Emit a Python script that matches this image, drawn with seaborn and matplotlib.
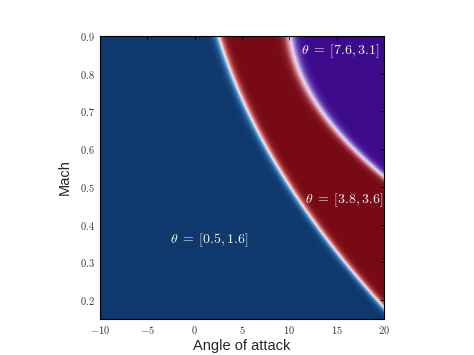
import numpy as np
import seaborn as sns
import matplotlib.pyplot as plt
from matplotlib.colors import LinearSegmentedColormap
from matplotlib.ticker import FuncFormatter

# boundary between the blue and red regions (Mach -> angle of attack)
mach_b1 = [0.20, 0.307, 0.44, 0.65, 0.75, 0.90]
aoa_b1 = [19.6, 15.1, 11.9, 6.6, 4.8, 2.4]

# boundary between the red and purple regions
mach_b2 = [0.53, 0.545, 0.65, 0.75, 0.90]
aoa_b2 = [20.0, 19.2, 14.6, 12.5, 10.0]

labels = [r'$\theta\;=\;[0.5, 1.6]$', r'$\theta\;=\;[3.8, 3.6]$', r'$\theta\;=\;[7.6, 3.1]$']
label_x = [-2.6, 11.7, 11.2]
label_y = [0.36, 0.466, 0.86]

blue = (0.06, 0.22, 0.43)
red = (0.47, 0.04, 0.08)
purple = (0.24, 0.04, 0.55)

sns.set_style("white")
plt.rcParams['mathtext.fontset'] = 'cm'
plt.rcParams['xtick.direction'] = 'in'
plt.rcParams['ytick.direction'] = 'in'

# smooth boundary curves through the read points
p1 = np.polyfit(mach_b1, aoa_b1, 2)
p2 = np.polyfit(mach_b2, aoa_b2, 2)

aoa = np.linspace(-10, 20, 600)
mach = np.linspace(0.15, 0.9, 600)
A, M = np.meshgrid(aoa, mach)
d1 = A - np.polyval(p1, M)
d2 = A - np.polyval(p2, M)

cmap1 = LinearSegmentedColormap.from_list(
    'br', [blue, (0.30, 0.58, 0.84), (0.96, 0.96, 0.96), (0.88, 0.45, 0.45), red])
cmap2 = LinearSegmentedColormap.from_list(
    'rp', [red, (0.88, 0.55, 0.62), (0.92, 0.88, 0.97), (0.6, 0.5, 0.85), purple])

t1 = 0.5 + 0.5 * np.tanh(d1 / 0.5)
t2 = 0.5 + 0.5 * np.tanh(d2 / 0.6)
rgb = np.where((d2 < -2.5)[..., None], cmap1(t1)[..., :3], cmap2(t2)[..., :3])

fig = plt.figure(figsize=(4.74, 3.55), dpi=100)
ax = fig.add_axes([0.211, 0.101, 0.599, 0.798])
ax.imshow(rgb, extent=[-10, 20, 0.15, 0.9], origin='lower', aspect='auto',
          interpolation='bilinear')

for txt, x, y in zip(labels, label_x, label_y):
    ax.text(x, y, txt, color='#f4f4f4', fontsize=10, va='center', ha='left')

ax.set_xlim(-10, 20)
ax.set_ylim(0.15, 0.9)
ax.set_xticks([-10, -5, 0, 5, 10, 15, 20])
ax.set_yticks([0.2, 0.3, 0.4, 0.5, 0.6, 0.7, 0.8, 0.9])
ax.xaxis.set_major_formatter(FuncFormatter(lambda v, p: r'$%g$' % v))
ax.yaxis.set_major_formatter(FuncFormatter(lambda v, p: r'$%.1f$' % v))
ax.tick_params(labelsize=7.5, length=3, width=0.6, top=True, right=True, colors='black')
ax.tick_params(labelcolor='#333333')
for s in ax.spines.values():
    s.set_color('black')
    s.set_linewidth(0.8)

ax.set_xlabel('Angle of attack', fontsize=10.5, family=['Liberation Sans'], labelpad=2)
ax.set_ylabel('Mach', fontsize=10.5, family=['Liberation Sans'], labelpad=6)

fig.savefig('out.png', dpi=100)
